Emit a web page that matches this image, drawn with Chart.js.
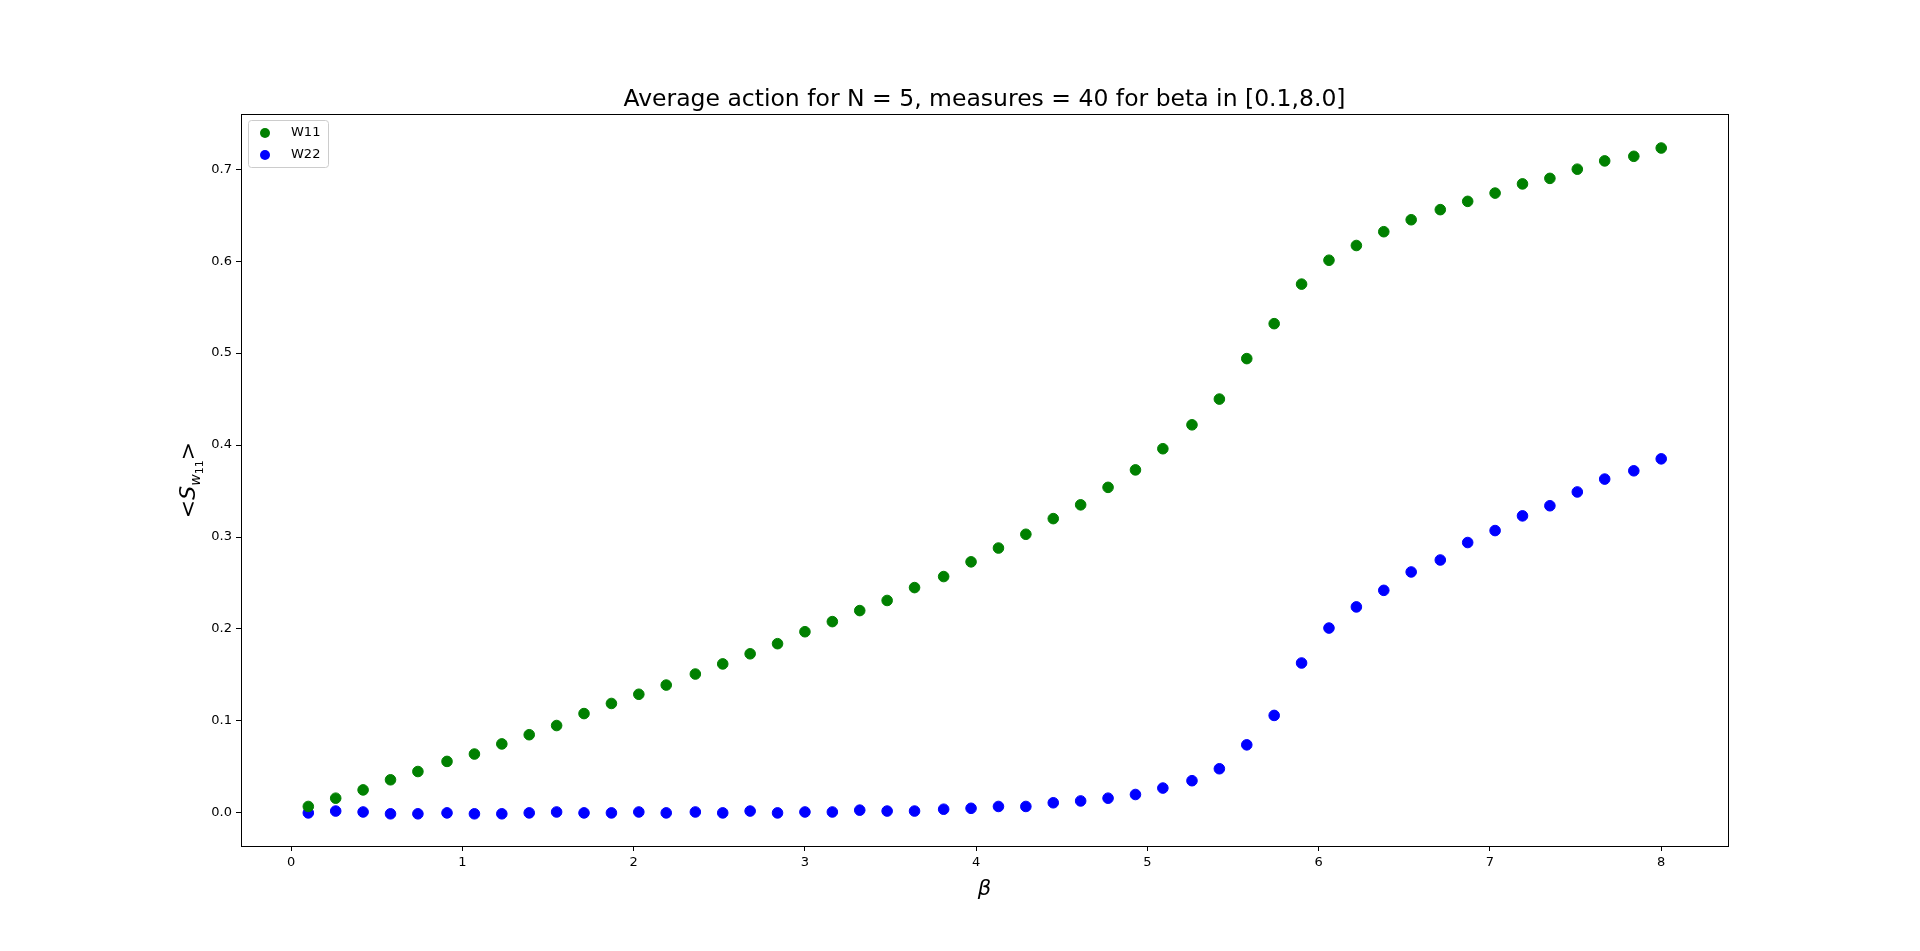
<!DOCTYPE html>
<html>
<head>
<meta charset="utf-8">
<script src="https://cdn.jsdelivr.net/npm/chart.js@4"></script>
<style>
  html, body { margin: 0; padding: 0; background: #fff; }
  #wrap { width: 1920px; height: 951px; }
</style>
</head>
<body>
<div id="wrap"><canvas id="plot"></canvas></div>
<script>
// beta values (50 points from 0.1 to 8.0)
const betas = [0.10, 0.26, 0.42, 0.58, 0.74, 0.91, 1.07, 1.23, 1.39, 1.55,
  1.71, 1.87, 2.03, 2.19, 2.36, 2.52, 2.68, 2.84, 3.00, 3.16,
  3.32, 3.48, 3.64, 3.81, 3.97, 4.13, 4.29, 4.45, 4.61, 4.77,
  4.93, 5.09, 5.26, 5.42, 5.58, 5.74, 5.90, 6.06, 6.22, 6.38,
  6.54, 6.71, 6.87, 7.03, 7.19, 7.35, 7.51, 7.67, 7.84, 8.00];

const w11 = [0.007, 0.016, 0.025, 0.036, 0.045, 0.056, 0.064, 0.075, 0.085, 0.095,
  0.108, 0.119, 0.129, 0.139, 0.151, 0.162, 0.173, 0.184, 0.197, 0.208,
  0.220, 0.231, 0.245, 0.257, 0.273, 0.288, 0.303, 0.320, 0.335, 0.354,
  0.373, 0.396, 0.422, 0.450, 0.494, 0.532, 0.575, 0.601, 0.617, 0.632,
  0.645, 0.656, 0.665, 0.674, 0.684, 0.690, 0.700, 0.709, 0.714, 0.723];

const w22 = [0.000, 0.002, 0.001, -0.001, -0.001, 0.000, -0.001, -0.001, 0.000, 0.001,
  0.000, 0.000, 0.001, 0.000, 0.001, 0.000, 0.002, 0.000, 0.001, 0.001,
  0.003, 0.002, 0.002, 0.004, 0.005, 0.007, 0.007, 0.011, 0.013, 0.016,
  0.020, 0.027, 0.035, 0.048, 0.074, 0.106, 0.163, 0.201, 0.224, 0.242,
  0.262, 0.275, 0.294, 0.307, 0.323, 0.334, 0.349, 0.363, 0.372, 0.385];

const seriesNames = ['W11', 'W22'];
const seriesColors = ['#008000', '#0000ff'];
const titleText = 'Average action for N = 5, measures = 40 for beta in [0.1,8.0]';

const pts = (ys) => ys.map((y, i) => ({ x: betas[i], y: y }));

// frame, title, legend and the y label with its subscript
const decor = {
  id: 'decor',
  afterDraw(chart) {
    const c = chart.ctx, a = chart.chartArea;
    c.save();
    c.strokeStyle = '#000';
    c.lineWidth = 1;
    c.strokeRect(a.left + 0.5, a.top + 0.5, a.right - a.left, a.bottom - a.top);

    c.fillStyle = '#000';
    c.font = '23.5px "DejaVu Sans"';
    c.textAlign = 'center';
    c.textBaseline = 'alphabetic';
    c.fillText(titleText, (a.left + a.right) / 2, 106);

    // legend box
    c.fillStyle = 'rgba(255,255,255,0.8)';
    c.strokeStyle = '#ccc';
    c.beginPath();
    c.roundRect(a.left + 7.5, a.top + 6.5, 80, 47, 3);
    c.fill(); c.stroke();
    c.font = '13px "DejaVu Sans"';
    c.textAlign = 'left';
    c.textBaseline = 'middle';
    seriesNames.forEach((n, i) => {
      const y = a.top + 19 + i * 22;
      c.fillStyle = seriesColors[i];
      c.beginPath(); c.arc(a.left + 24, y, 5, 0, Math.PI * 2); c.fill();
      c.fillStyle = '#000';
      c.fillText(n, a.left + 50, y);
    });

    // y axis label: <S_{W11}>
    c.translate(a.left - 54, (a.top + a.bottom) / 2);
    c.rotate(-Math.PI / 2);
    c.textBaseline = 'alphabetic';
    c.font = '22px "DejaVu Sans"';
    const w1 = c.measureText('<').width;
    c.font = 'italic 22px "DejaVu Sans"';
    const w2 = c.measureText('S').width;
    c.font = 'italic 14px "DejaVu Sans"';
    const w3 = c.measureText('w').width;
    c.font = '11px "DejaVu Sans"';
    const w4 = c.measureText('11').width;
    c.font = '22px "DejaVu Sans"';
    const w5 = c.measureText('>').width;
    let x = -(w1 + w2 + w3 + w4 + w5) / 2;
    c.textAlign = 'left';
    c.fillText('<', x, 8); x += w1;
    c.font = 'italic 22px "DejaVu Sans"'; c.fillText('S', x, 8); x += w2;
    c.font = 'italic 14px "DejaVu Sans"'; c.fillText('w', x, 13); x += w3;
    c.font = '11px "DejaVu Sans"'; c.fillText('11', x, 16); x += w4;
    c.font = '22px "DejaVu Sans"'; c.fillText('>', x, 8);
    c.restore();
  }
};

new Chart(document.getElementById('plot'), {
  type: 'scatter',
  data: {
    datasets: [
      { label: seriesNames[0], data: pts(w11), backgroundColor: seriesColors[0], borderColor: seriesColors[0], pointRadius: 5.3, pointHoverRadius: 5.3 },
      { label: seriesNames[1], data: pts(w22), backgroundColor: seriesColors[1], borderColor: seriesColors[1], pointRadius: 5.3, pointHoverRadius: 5.3 }
    ]
  },
  options: {
    responsive: true,
    maintainAspectRatio: false,
    animation: false,
    layout: { padding: { left: 181, right: 192, top: 114, bottom: 45 } },
    plugins: { legend: { display: false }, tooltip: { enabled: false } },
    scales: {
      x: {
        min: -0.293, max: 8.39,
        afterFit: (s) => { s.height = 60; },
        afterBuildTicks: (s) => { s.ticks = [0,1,2,3,4,5,6,7,8].map(v => ({ value: v })); },
        ticks: { color: '#000', font: { size: 13, family: 'DejaVu Sans' }, padding: 4 },
        grid: { drawOnChartArea: false, drawTicks: true, tickLength: 5, color: '#000' },
        border: { display: false },
        title: { display: true, text: 'β', color: '#000', font: { size: 21, style: 'italic', family: 'DejaVu Sans' }, padding: { top: 2 } }
      },
      y: {
        min: -0.036, max: 0.76,
        afterFit: (s) => { s.width = 60; },
        afterBuildTicks: (s) => { s.ticks = [0,0.1,0.2,0.3,0.4,0.5,0.6,0.7].map(v => ({ value: v })); },
        ticks: { color: '#000', font: { size: 13, family: 'DejaVu Sans' }, padding: 4, callback: (v) => v.toFixed(1) },
        grid: { drawOnChartArea: false, drawTicks: true, tickLength: 5, color: '#000' },
        border: { display: false }
      }
    }
  },
  plugins: [decor]
});
</script>
</body>
</html>
